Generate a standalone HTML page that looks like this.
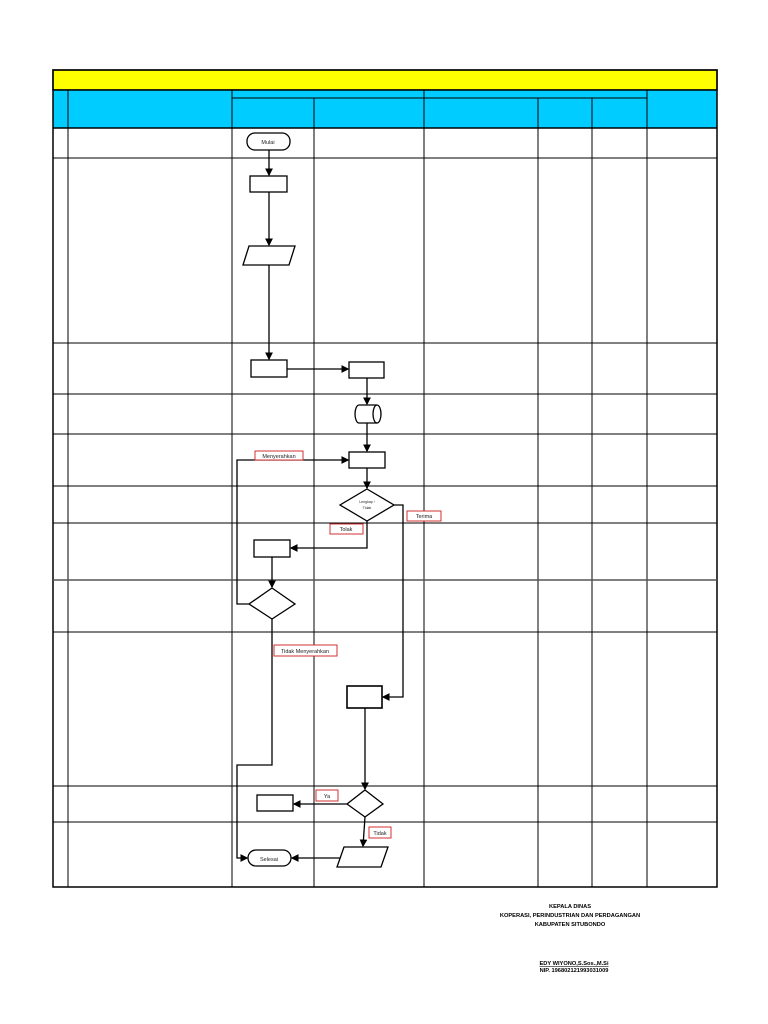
<!DOCTYPE html>
<html><head><meta charset="utf-8"><style>body{margin:0;background:#fff}svg{display:block}</style></head><body>
<svg width="768" height="1024" viewBox="0 0 768 1024" xmlns="http://www.w3.org/2000/svg" font-family="Liberation Sans, sans-serif">
<defs><marker id="a" markerWidth="6" markerHeight="6" refX="5" refY="3" orient="auto"><path d="M0,0 L6,3 L0,6 z" fill="#000"/></marker></defs>
<rect x="53" y="70" width="664" height="20" fill="#ffff00" stroke="#333" stroke-width="1.5"/>
<rect x="53" y="90" width="664" height="38" fill="#00ccff"/>
<g stroke="#000" stroke-width="1" fill="none">
<rect x="53" y="70" width="664" height="817" stroke-width="1.5"/>
<line x1="53" y1="90" x2="717" y2="90" stroke-width="1.5"/>
<line x1="232" y1="98" x2="647" y2="98"/>
<line x1="424" y1="90" x2="424" y2="98"/>
<line x1="68" y1="90" x2="68" y2="887"/>
<line x1="232" y1="90" x2="232" y2="887"/>
<line x1="314" y1="98" x2="314" y2="887"/>
<line x1="424" y1="98" x2="424" y2="887"/>
<line x1="538" y1="98" x2="538" y2="887"/>
<line x1="592" y1="98" x2="592" y2="887"/>
<line x1="647" y1="90" x2="647" y2="887"/>
<line x1="53" y1="128" x2="717" y2="128" stroke-width="1.5"/>
<line x1="53" y1="158" x2="717" y2="158"/>
<line x1="53" y1="343" x2="717" y2="343"/>
<line x1="53" y1="394" x2="717" y2="394"/>
<line x1="53" y1="434" x2="717" y2="434"/>
<line x1="53" y1="486" x2="717" y2="486"/>
<line x1="53" y1="523" x2="717" y2="523"/>
<line x1="53" y1="580" x2="717" y2="580" stroke="#555" stroke-width="1.5"/>
<line x1="53" y1="632" x2="717" y2="632"/>
<line x1="53" y1="786" x2="717" y2="786"/>
<line x1="53" y1="822" x2="717" y2="822"/>
</g>
<g stroke="#000" stroke-width="1.3" fill="#fff">
<rect x="247" y="133" width="43" height="17" rx="8"/>
<rect x="250" y="176" width="37" height="16"/>
<polygon points="249,246 295,246 289,265 243,265"/>
<rect x="251" y="360" width="36" height="17"/>
<rect x="349" y="362" width="35" height="16"/>
<path d="M359,405 h18 a4,9 0 0 1 0,18 h-18 a4,9 0 0 1 0,-18 z"/>
<path d="M377,405 a4,9 0 0 0 0,18" fill="none"/>
<rect x="349" y="452" width="36" height="16"/>
<polygon points="367,489 394,505 367,521 340,505"/>
<rect x="254" y="540" width="36" height="17"/>
<polygon points="272,588 295,604 272,619 249,604"/>
<rect x="347" y="686" width="35" height="22" stroke-width="1.6"/>
<polygon points="365,790 383,804 365,817 347,804"/>
<rect x="257" y="795" width="36" height="16"/>
<polygon points="344,847 388,847 381,867 337,867"/>
<rect x="248" y="850" width="43" height="16" rx="8"/>
</g>
<g stroke="#000" stroke-width="1.3" fill="none" marker-end="url(#a)">
<line x1="269" y1="150" x2="269" y2="175"/>
<line x1="269" y1="192" x2="269" y2="245"/>
<line x1="269" y1="265" x2="269" y2="359"/>
<line x1="287" y1="369" x2="348" y2="369"/>
<line x1="367" y1="378" x2="367" y2="404"/>
<line x1="367" y1="423" x2="367" y2="451"/>
<line x1="367" y1="468" x2="367" y2="488"/>
<polyline points="249,604 237,604 237,460 348,460"/>
<polyline points="394,505 403,505 403,697 383,697"/>
<polyline points="367,521 367,548 291,548"/>
<line x1="272" y1="557" x2="272" y2="587"/>
<polyline points="272,619 272,765 237,765 237,858 247,858"/>
<line x1="365" y1="708" x2="365" y2="789"/>
<line x1="347" y1="804" x2="294" y2="804"/>
<line x1="365" y1="817" x2="363" y2="846"/>
<line x1="340" y1="858" x2="292" y2="858"/>
</g>
<g stroke="#d03030" stroke-width="1" fill="#fff">
<rect x="255" y="451" width="48" height="9"/>
<rect x="407" y="511" width="34" height="10"/>
<rect x="330" y="524" width="33" height="10"/>
<rect x="274" y="645" width="63" height="11"/>
<rect x="316" y="790" width="22" height="11"/>
<rect x="369" y="827" width="22" height="11"/>
</g>
<g font-size="5.5" fill="#222" text-anchor="middle">
<text x="268" y="144">Mulai</text>
<text x="279" y="458">Menyerahkan</text>
<text x="424" y="518">Terima</text>
<text x="346" y="531">Tolak</text>
<text x="305" y="653">Tidak Menyerahkan</text>
<text x="327" y="798">Ya</text>
<text x="380" y="835">Tidak</text>
<text x="269" y="861">Selesai</text>
<text x="367" y="503" font-size="3.5">Lengkap /</text>
<text x="367" y="509" font-size="3.5">Tidak</text>
</g>
<g font-size="5.7" font-weight="bold" fill="#000" text-anchor="middle">
<text x="570" y="908">KEPALA DINAS</text>
<text x="570" y="917">KOPERASI, PERINDUSTRIAN DAN PERDAGANGAN</text>
<text x="570" y="926">KABUPATEN SITUBONDO</text>
<text x="574" y="965" text-decoration="underline">EDY WIYONO,S.Sos.,M.Si</text>
<text x="574" y="972">NIP. 196802121993031009</text>
</g>
</svg>
</body></html>
